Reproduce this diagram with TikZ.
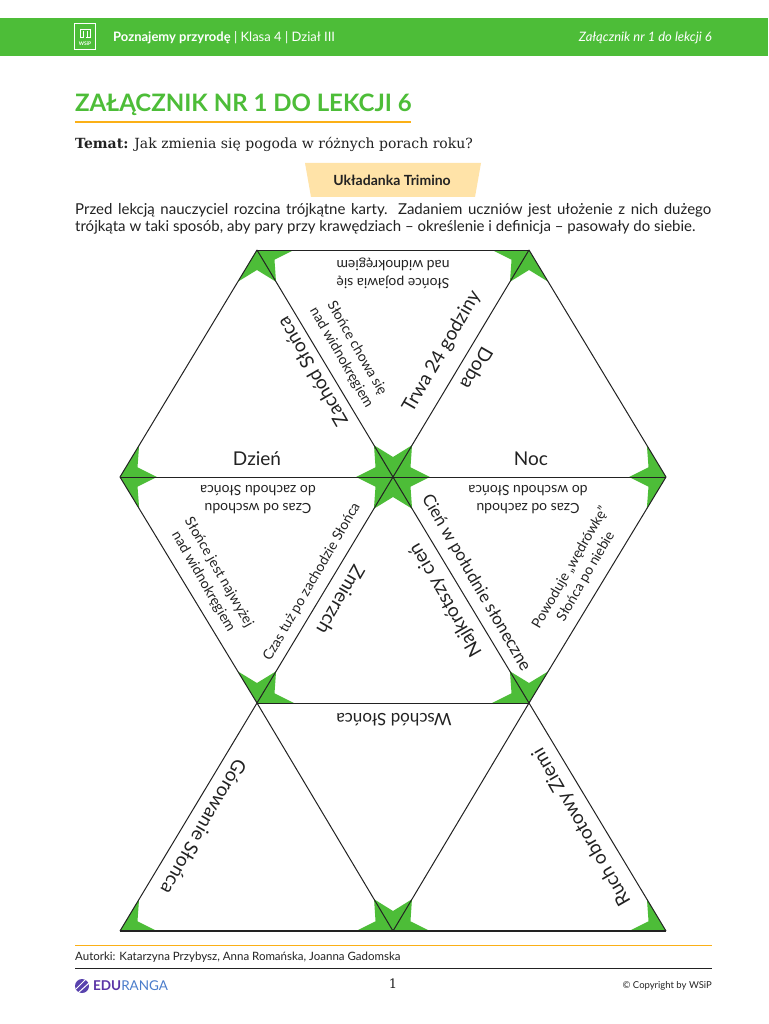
\documentclass[tikz,border=0pt]{standalone}
\usepackage{fontspec}
\setmainfont{Lato}
\newfontfamily\slabfont{DejaVu Serif}
\definecolor{leaf}{HTML}{4DBD38}
\definecolor{amber}{HTML}{FBB017}
\definecolor{sand}{HTML}{FFE3A8}
\definecolor{ink}{HTML}{222222}
\definecolor{plum}{HTML}{5B34A6}
\definecolor{sky}{HTML}{4A7CCB}
\newcommand{\fs}[1]{\fontsize{#1}{#1}\selectfont}
\tikzset{
  edgeline/.style={draw=ink,line width=1pt},
  small/.style={font=\fs{14},text=ink,align=center,inner sep=0pt},
  big/.style={font=\fs{19},text=ink,align=center,inner sep=0pt},
  mid/.style={font=\fs{17},text=ink,align=center,inner sep=0pt},
  plain/.style={inner sep=0pt,text=ink},
}
% kite in corner #1 of a triangle whose other corners are #2, #3
\newcommand{\kite}[3]{%
  \fill[leaf] (#1) -- ($(#1)!37pt!(#2)$) -- ($(#1)!20pt!($(#2)!0.5!(#3)$)$) -- ($(#1)!37pt!(#3)$) -- cycle;}
\usetikzlibrary{calc}
\begin{document}
\begin{tikzpicture}[x=1pt,y=-1pt]
\useasboundingbox (0,0) rectangle (768,1024);
\fill[white] (0,0) rectangle (768,1024);
% header
\fill[leaf] (0,18) rectangle (768,56);
\draw[white,line width=.5pt] (74.5,23.5) rectangle (95.5,49);
\draw[white,line width=.7pt] (80,29) -- (80,37) -- (84,37) (90,29) -- (90,37) -- (86,37) (80,29) -- (90,29) (83,31) -- (83,37) (87,31) -- (87,37);
\node[anchor=center,inner sep=0pt,text=white,font=\bfseries\fs{5}] (wsip) at (85,44) {WSiP};
\node[anchor=base west,inner sep=0pt,text=white,font=\fs{13}] (series) at (113,42) {\textbf{Poznajemy przyrodę} | Klasa 4 | Dział III};
\node[anchor=base east,inner sep=0pt,text=white,font=\itshape\fs{13}] (att) at (712,42) {Załącznik nr 1 do lekcji 6};
% title
\node[anchor=base west,inner sep=0pt,text=leaf,font=\bfseries\fs{24}] (title) at (75,112) {ZAŁĄCZNIK NR 1 DO LEKCJI 6};
\draw[amber,line width=1.6pt] (75,122) -- (411,122);
\node[anchor=base west,plain,font=\slabfont\fs{14}] (temat) at (75,149) {\textbf{Temat:} Jak zmienia się pogoda w różnych porach roku?};
\fill[sand] (305,163) -- (481,163) -- (475,197) -- (311,197) -- cycle;
\node[plain,font=\bfseries\fs{14}] (uklad) at (392,180) {Układanka Trimino};
\node[anchor=north west,plain,text width=636pt,align=justify,font=\fontsize{15}{17}\selectfont] (intro) at (75,203.5) {Przed lekcją nauczyciel rozcina trójkątne karty. Zadaniem uczniów jest ułożenie z nich dużego trójkąta w taki sposób, aby pary przy krawędziach -- określenie i definicja -- pasowały do siebie.};
% vertices
\coordinate (a) at (257,250); \coordinate (b) at (529,250);
\coordinate (c) at (120,477); \coordinate (d) at (393,477); \coordinate (e) at (666,477);
\coordinate (f) at (257,703); \coordinate (g) at (529,703);
\coordinate (h) at (120,931); \coordinate (i) at (393,931); \coordinate (j) at (666,931);
% green corners
\kite{a}{c}{d}\kite{c}{a}{d}\kite{d}{a}{c}
\kite{b}{d}{e}\kite{d}{b}{e}\kite{e}{b}{d}
\kite{a}{b}{d}\kite{b}{a}{d}\kite{d}{a}{b}
\kite{c}{d}{f}\kite{d}{c}{f}\kite{f}{c}{d}
\kite{d}{e}{g}\kite{e}{d}{g}\kite{g}{d}{e}
\kite{d}{f}{g}\kite{f}{d}{g}\kite{g}{d}{f}
\kite{h}{f}{i}\kite{i}{f}{h}
\kite{i}{g}{j}\kite{j}{g}{i}
\kite{i}{f}{g}
% lines
\draw[edgeline] (a) -- (b);
\draw[edgeline] (c) -- (e);
\draw[edgeline] (a) -- (c) (c) -- (f) (f) -- (h);
\draw[edgeline] (b) -- (e) (e) -- (g) (g) -- (j);
\draw[edgeline] (a) -- (d) (d) -- (g);
\draw[edgeline] (b) -- (d) (d) -- (f);
\draw[edgeline] (f) -- (g);
\draw[edgeline] (f) -- (i) (g) -- (i);
\draw[draw=ink,line width=1.5pt] (h) -- (j);
% texts
\node[small,rotate=180] (t1) at (393,273) {Słońce pojawia się\\[4pt]nad widnokręgiem};
\node[small,rotate=-60] (t2) at (349,353) {Słońce chowa się\\[4pt]nad widnokręgiem};
\node[big,rotate=120] (t3) at (312,372) {Zachód Słońca};
\node[big,rotate=60] (t4) at (442,352) {Trwa 24 godziny};
\node[big,rotate=-120] (t5) at (477,369) {Doba};
\node[big] (t6) at (257,459) {Dzień};
\node[big] (t7) at (531,459) {Noc};
\node[small,rotate=180] (t8) at (258,500) {Czas od wschodu\\[4pt]do zachodu Słońca};
\node[small,rotate=180] (t9) at (528,500) {Czas od zachodu\\[4pt]do wschodu Słońca};
\node[small,rotate=-60] (t10) at (211,577) {Słońce jest najwyżej\\[4pt]nad widnokręgiem};
\node[small,rotate=60] (t11) at (312,582) {Czas tuż po zachodzie Słońca};
\node[big,rotate=-120] (t12) at (341,600) {Zmierzch};
\node[mid,rotate=-60] (t13) at (476,583) {Cień w południe słoneczne};
\node[big,rotate=120] (t14) at (446,600) {Najkrótszy cień};
\node[small,rotate=60] (t15) at (578,572) {Powoduje „wędrówkę”\\[4pt]Słońca po niebie};
\node[mid,rotate=180] (t16) at (394,720) {Wschód Słońca};
\node[big,rotate=-120] (t17) at (204,827) {Górowanie Słońca};
\node[big,rotate=120] (t18) at (582,827) {Ruch obrotowy Ziemi};
% footer
\draw[amber,line width=.8pt] (75,945) -- (712,945);
\node[anchor=base west,plain,font=\fs{11.5}] (auth) at (75,960) {Autorki: Katarzyna Przybysz, Anna Romańska, Joanna Gadomska};
\draw[ink,line width=.9pt] (75,968) -- (712,968);
\fill[plum!80!sky] (82,986) circle (7pt);
\draw[white,line width=1pt] (76,989) -- (86,979) (78,993) -- (89,983);
\node[anchor=base west,inner sep=0pt,font=\fs{13.5}] (edu) at (93,990) {\textcolor{plum}{\bfseries EDU}\textcolor{sky}{RANGA}};
\node[plain,font=\slabfont\fs{13}] (page) at (393,984) {1};
\node[anchor=base east,plain,font=\fs{9.5}] (copy) at (712,988) {© Copyright by WSiP};
\end{tikzpicture}
\end{document}
